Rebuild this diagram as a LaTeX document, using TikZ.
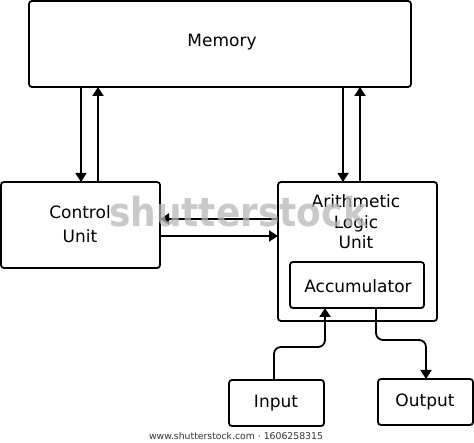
\documentclass[tikz,border=0pt]{standalone}
\usepackage{fontspec}
\setmainfont{DejaVu Sans}
\usetikzlibrary{arrows.meta}
\begin{document}
\begin{tikzpicture}[x=1pt,y=-1pt,
  box/.style={draw=black,line width=1.8pt,rounded corners=3pt,inner sep=0pt},
  lbl/.style={font=\fontsize{17}{20.5}\selectfont,inner sep=0pt,align=center},
  conn/.style={line width=1.8pt,-{Triangle[width=11pt,length=9pt]}},
]
\useasboundingbox[fill=white] (0,0) rectangle (474,443);
% boxes
\draw[box] (29,1) rectangle (411,87);
\node[lbl] (memory) at (222,42) {Memory};
\draw[box] (1,182) rectangle (160,268);
\node[lbl,font=\fontsize{17}{24}\selectfont] (control) at (80,224) {Control\\Unit};
\draw[box] (278,182) rectangle (437,321);
\node[lbl] (alu) at (356,222) {Arithmetic\\Logic\\Unit};
\draw[box] (290,262) rectangle (424,308);
\node[lbl] (acc) at (358,286) {Accumulator};
\draw[box] (229,380) rectangle (324,426);
\node[lbl] (input) at (276,403) {Input};
\draw[box] (378,379) rectangle (473,425);
\node[lbl] (output) at (425,402) {Output};
% named connector ends
\coordinate (m1) at (81,87);  \coordinate (c1) at (81,182);
\coordinate (m2) at (98,87);  \coordinate (c2) at (98,182);
\coordinate (m3) at (343,87); \coordinate (a3) at (343,182);
\coordinate (m4) at (360,87); \coordinate (a4) at (360,182);
\coordinate (aL1) at (278,219); \coordinate (cR1) at (160,219);
\coordinate (cR2) at (160,236); \coordinate (aL2) at (278,236);
\coordinate (inT) at (274,380); \coordinate (accB1) at (325,308);
\coordinate (accB2) at (376,308); \coordinate (outT) at (426,379);
% connectors
\draw[conn] (m1) -- (c1);
\draw[conn] (c2) -- (m2);
\draw[conn] (m3) -- (a3);
\draw[conn] (a4) -- (m4);
\draw[conn] (aL1) -- (cR1);
\draw[conn] (cR2) -- (aL2);
\draw[conn,rounded corners=7pt] (inT) -- (274,347) -- (325,347) -- (accB1);
\draw[conn,rounded corners=7pt] (accB2) -- (376,340) -- (426,340) -- (outT);
% watermark
\node[font=\bfseries\fontsize{40}{40}\selectfont,text=black!28,opacity=0.75,inner sep=0pt,xscale=0.9] (wm) at (238,212) {shutterstock};
\node[font=\fontsize{9.3}{10}\selectfont,text=black!80,inner sep=0pt] (url) at (236,436) {www.shutterstock.com · 1606258315};
\end{tikzpicture}
\end{document}
